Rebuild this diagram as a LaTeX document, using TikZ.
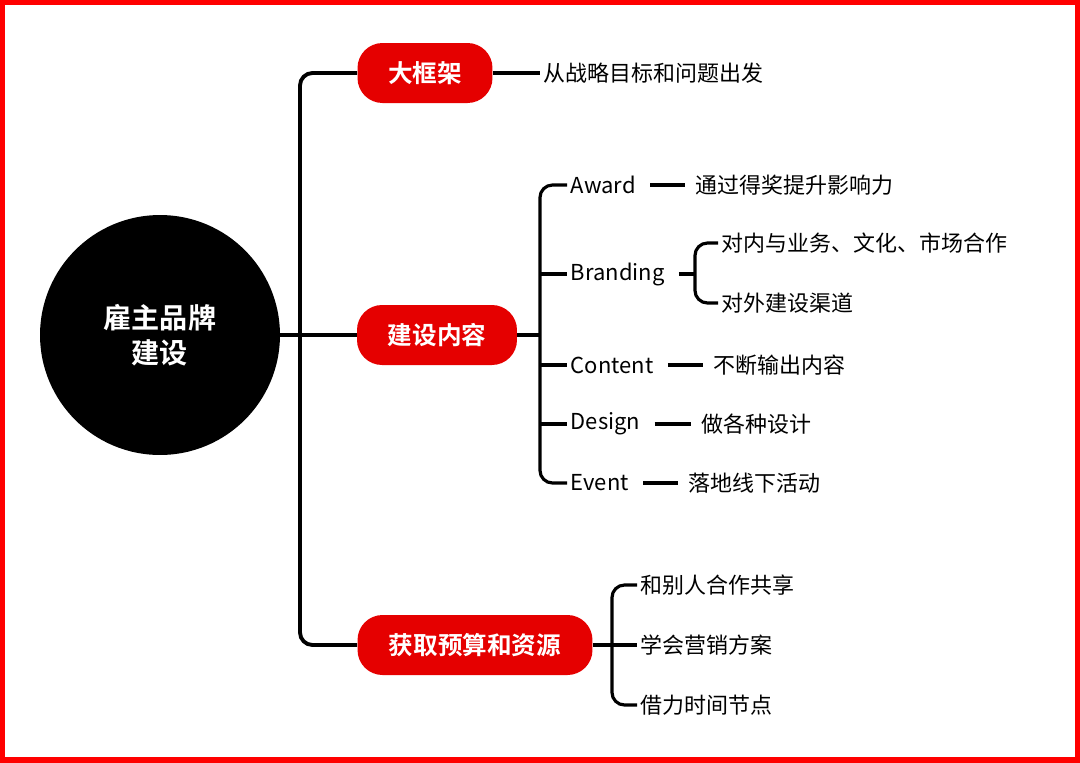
\documentclass[tikz,border=0pt]{standalone}
\usepackage{fontspec}
\setmainfont{Noto Sans CJK SC}
\newfontfamily\cjkb{Noto Sans CJK SC Bold}
\begin{document}
\begin{tikzpicture}[x=0.02cm,y=-0.02cm,
  redbox/.style={fill=red!90!black,rounded corners=0.5cm,text=white,font=\cjkb\fontsize{14}{16}\selectfont,minimum height=1.2cm,inner xsep=0.5cm},
  lbl/.style={anchor=west,font=\fontsize{12.5}{14}\selectfont,inner sep=2pt},
  conn/.style={line width=2.2pt,rounded corners=0.25cm},
  dashl/.style={line width=1.8pt}]
\useasboundingbox (0,0) rectangle (1080,762);
\draw[red,line width=3pt] (2,2) rectangle (1078,760);
\node[circle,fill=black,minimum size=4.8cm,text=white,align=center,font=\cjkb\fontsize{16}{20}\selectfont] (root) at (160,335) {雇主品牌\\建设};
\node[redbox,minimum width=2.7cm] (b1) at (425,73) {大框架};
\node[redbox,minimum width=3.2cm] (b2) at (437,335) {建设内容};
\node[redbox,minimum width=4.7cm] (b3) at (475,645) {获取预算和资源};
\draw[conn] (root.east) -- (b2.west);
\draw[conn] (b1.west) -| (300,335) |- (b3.west);
\node[lbl] (t1) at (540,73) {从战略目标和问题出发};
\draw[dashl] (b1.east) -- (t1.west);
% content branch
\coordinate (j2) at (540,335);
\draw[conn] (b2.east) -- (j2);
\node[lbl] (aw) at (567,185) {Award};
\node[lbl] (br) at (567,274) {Branding};
\node[lbl] (co) at (567,365) {Content};
\node[lbl] (de) at (567,424) {Design};
\node[lbl] (ev) at (567,483) {Event};
\draw[conn,line width=1.8pt] (aw.west) -| (j2) |- (ev.west);
\foreach \n in {br,co,de}{\draw[dashl] (j2|-\n.west) -- (\n.west);}
\node[lbl] (aw2) at (692,185) {通过得奖提升影响力};
\draw[dashl] ([xshift=6pt]aw.east) -- ([xshift=-4pt]aw2.west);
\node[lbl] (co2) at (710,365) {不断输出内容};
\draw[dashl] ([xshift=6pt]co.east) -- ([xshift=-4pt]co2.west);
\node[lbl] (de2) at (698,424) {做各种设计};
\draw[dashl] ([xshift=6pt]de.east) -- ([xshift=-4pt]de2.west);
\node[lbl] (ev2) at (685,483) {落地线下活动};
\draw[dashl] ([xshift=6pt]ev.east) -- ([xshift=-4pt]ev2.west);
\node[lbl] (br1) at (718,243) {对内与业务、文化、市场合作};
\node[lbl] (br2) at (718,303) {对外建设渠道};
\coordinate (j3) at (695,274);
\draw[dashl] ([xshift=6pt]br.east) -- (j3);
\draw[conn,line width=1.8pt] (br1.west) -| (j3) |- (br2.west);
% budget branch
\coordinate (j4) at (612,645);
\draw[conn] (b3.east) -- (j4);
\node[lbl] (c1) at (637,585) {和别人合作共享};
\node[lbl] (c2) at (637,645) {学会营销方案};
\node[lbl] (c3) at (637,705) {借力时间节点};
\draw[conn,line width=1.8pt] (c1.west) -| (j4) |- (c3.west);
\draw[dashl] (j4) -- (c2.west);
\end{tikzpicture}
\end{document}
